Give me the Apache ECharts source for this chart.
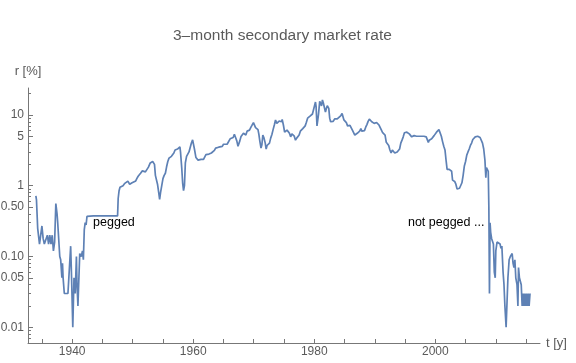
<!DOCTYPE html>
<html>
<head>
<meta charset="utf-8">
<script src="https://cdn.jsdelivr.net/npm/echarts@6/dist/echarts.min.js"></script>
<style>
html,body{margin:0;padding:0;background:#fff;}
#c{width:576px;height:363px;}
</style>
</head>
<body>
<div id="c"></div>
<script>
// ---- data ----
var years = [
1934.0,1934.1,1934.3,1934.6,1934.8,1935.0,1935.2,1935.4,1935.7,1935.9,
1936.1,1936.3,1936.5,1936.7,1936.9,1937.1,1937.3,1937.5,1937.6,1937.8,
1937.95,1938.1,1938.3,1938.4,1938.5,1938.7,1939.0,1939.3,1939.5,1939.75,
1939.9,1940.1,1940.3,1940.5,1940.7,1940.8,1940.95,1941.1,1941.25,1941.5,
1941.7,1941.85,1942.0,1942.15,1942.3,1942.45,1942.6,1943.5,1944.5,1945.5,
1946.5,1947.5,1947.6,1947.75,1947.9,1948.1,1948.4,1948.7,1948.9,1949.2,
1949.5,1949.7,1949.9,1950.2,1950.5,1950.7,1950.9,1951.1,1951.3,1951.6,
1951.9,1952.1,1952.4,1952.6,1952.9,1953.1,1953.3,1953.45,1953.6,1953.75,
1953.9,1954.1,1954.3,1954.45,1954.6,1954.8,1955.0,1955.2,1955.4,1955.6,
1955.8,1956.0,1956.2,1956.4,1956.6,1956.8,1957.0,1957.2,1957.4,1957.6,
1957.8,1957.9,1958.1,1958.25,1958.4,1958.55,1958.7,1958.9,1959.1,1959.3,
1959.5,1959.7,1959.9,1960.05,1960.2,1960.45,1960.6,1960.8,1961.0,1961.3,
1961.5,1961.7,1961.9,1962.1,1962.4,1962.6,1962.8,1963.0,1963.2,1963.5,
1963.7,1963.9,1964.2,1964.5,1964.8,1965.0,1965.3,1965.6,1965.9,1966.1,
1966.4,1966.6,1966.8,1967.0,1967.2,1967.4,1967.55,1967.7,1967.9,1968.1,
1968.3,1968.5,1968.7,1968.9,1969.1,1969.3,1969.5,1969.7,1969.95,1970.1,
1970.3,1970.5,1970.7,1970.85,1971.0,1971.2,1971.35,1971.5,1971.7,1971.9,
1972.05,1972.2,1972.4,1972.6,1972.8,1973.0,1973.2,1973.4,1973.6,1973.8,
1974.0,1974.2,1974.4,1974.6,1974.7,1974.9,1975.1,1975.3,1975.5,1975.7,
1975.9,1976.1,1976.3,1976.5,1976.7,1976.9,1977.1,1977.3,1977.5,1977.7,
1977.9,1978.1,1978.3,1978.5,1978.7,1978.9,1979.1,1979.3,1979.5,1979.7,
1979.9,1980.05,1980.2,1980.3,1980.45,1980.55,1980.7,1980.9,1981.0,1981.2,
1981.35,1981.5,1981.7,1981.85,1982.0,1982.15,1982.4,1982.55,1982.7,1982.9,
1983.1,1983.4,1983.6,1983.8,1984.1,1984.4,1984.6,1984.75,1984.9,1985.1,
1985.3,1985.5,1985.7,1985.9,1986.1,1986.3,1986.5,1986.7,1986.9,1987.1,
1987.3,1987.5,1987.7,1987.85,1988.0,1988.3,1988.5,1988.7,1988.9,1989.1,
1989.3,1989.5,1989.7,1989.9,1990.1,1990.3,1990.5,1990.7,1990.9,1991.1,
1991.3,1991.5,1991.7,1991.9,1992.1,1992.3,1992.5,1992.7,1992.9,1993.1,
1993.3,1993.5,1993.7,1993.9,1994.1,1994.3,1994.5,1994.7,1994.9,1995.1,
1995.3,1995.5,1995.7,1995.9,1996.1,1996.3,1996.5,1996.7,1996.9,1997.1,
1997.3,1997.5,1997.7,1997.9,1998.1,1998.3,1998.5,1998.7,1998.85,1999.0,
1999.2,1999.4,1999.6,1999.8,2000.0,2000.2,2000.4,2000.6,2000.8,2001.0,
2001.2,2001.4,2001.6,2001.8,2001.95,2002.1,2002.3,2002.5,2002.7,2002.85,
2003.0,2003.2,2003.4,2003.6,2003.8,2004.0,2004.2,2004.4,2004.6,2004.8,
2005.0,2005.2,2005.4,2005.6,2005.8,2006.0,2006.2,2006.4,2006.6,2006.8,
2007.0,2007.2,2007.4,2007.6,2007.8,2008.0,2008.2,2008.35,2008.45,2008.6,
2008.75,2008.85,2008.95,2009.05,2009.15,2009.3,2009.45,2009.6,2009.75,2009.9,
2010.0,2010.2,2010.35,2010.5,2010.7,2010.85,2011.0,2011.2,2011.35,2011.5,
2011.7,2011.85,2012.0,2012.2,2012.4,2012.55,2012.7,2012.85,2013.0,2013.15,
2013.3,2013.4,2013.5,2013.65,2013.75,2013.9,2014.05,2014.2,2014.35,2014.5,
2014.6,2014.75,2014.9,2015.05,2015.2,2015.35,2015.5,2015.65
];
var rates = [
0.72,0.63,0.25,0.15,0.20,0.27,0.18,0.15,0.15,0.20,
0.15,0.20,0.15,0.20,0.12,0.16,0.56,0.40,0.31,0.30,
0.10,0.09,0.05,0.08,0.05,0.03,0.03,0.03,0.03,0.14,
0.05,0.01,0.05,0.03,0.10,0.04,0.02,0.02,0.11,0.10,
0.12,0.09,0.24,0.30,0.28,0.37,0.375,0.375,0.375,0.375,
0.375,0.375,0.66,0.85,0.95,0.99,1.00,1.08,1.15,1.16,
1.05,1.06,1.10,1.14,1.17,1.27,1.36,1.40,1.50,1.62,
1.70,1.57,1.64,1.83,2.10,2.02,2.20,2.20,2.00,1.40,
1.40,1.05,0.80,0.64,0.80,1.00,1.26,1.40,1.50,1.85,
2.20,2.45,2.35,2.60,2.60,2.90,3.20,3.05,3.30,3.40,
3.55,3.00,1.80,1.10,0.85,1.00,2.10,2.60,2.80,3.00,
3.20,4.00,4.45,4.20,3.30,2.50,2.50,2.30,2.30,2.35,
2.25,2.35,2.50,2.75,2.70,2.80,2.75,2.90,2.90,3.15,
3.40,3.50,3.50,3.45,3.60,3.85,3.90,3.85,4.10,4.60,
4.55,4.80,5.30,4.80,4.30,3.60,3.70,4.30,4.95,5.00,
5.50,5.40,5.20,5.90,6.10,6.10,6.60,7.10,7.80,7.60,
6.60,6.50,6.20,5.30,4.30,3.40,3.80,5.20,4.70,4.00,
3.30,3.70,3.70,4.00,4.70,5.30,6.20,7.20,8.50,7.60,
7.70,8.20,8.40,8.00,8.60,7.20,5.70,5.40,6.10,6.40,
5.50,4.90,5.40,5.20,5.00,4.40,4.70,4.90,5.20,5.90,
6.10,6.40,6.70,7.00,7.90,9.00,9.40,9.60,9.30,10.3,
12.0,12.0,15.2,13.2,7.00,8.10,10.2,15.5,14.8,13.4,
16.3,14.7,15.0,11.0,12.3,13.5,12.4,9.00,8.00,7.90,
8.10,8.80,9.20,8.80,9.00,9.80,10.5,10.4,8.50,8.30,
7.80,7.00,7.10,7.10,7.00,6.10,6.00,5.20,5.30,5.50,
5.70,5.90,6.40,5.90,5.80,6.00,6.70,7.30,8.10,8.70,
8.70,8.00,7.80,7.60,7.70,7.80,7.50,7.20,6.80,6.10,
5.60,5.60,5.20,4.10,3.90,3.70,3.20,2.90,3.20,3.00,
2.90,3.05,3.00,3.10,3.30,4.00,4.40,4.90,5.60,5.80,
5.70,5.50,5.40,5.10,4.90,5.00,5.10,5.00,5.00,5.10,
5.00,5.10,5.00,5.10,5.00,4.95,4.90,4.60,4.10,4.40,
4.50,4.60,4.70,5.10,5.30,5.70,5.80,6.20,6.10,5.00,
4.20,3.60,3.20,2.20,1.70,1.70,1.70,1.70,1.60,1.20,
1.20,1.15,1.05,0.90,0.93,0.92,0.95,1.10,1.40,1.90,
2.20,2.70,3.00,3.30,3.70,4.00,4.50,4.70,4.90,4.95,
5.00,4.95,4.80,4.50,4.00,3.30,2.30,1.30,1.80,1.70,
1.60,0.50,0.03,0.30,0.22,0.18,0.18,0.15,0.06,0.05,
0.12,0.16,0.16,0.15,0.15,0.13,0.14,0.06,0.04,0.02,
0.01,0.01,0.05,0.09,0.10,0.10,0.11,0.08,0.07,0.09,
0.05,0.05,0.04,0.02,0.07,0.05,0.05,0.04,0.02,0.03,
0.02,0.03,0.02,0.03,0.02,0.03,0.02,0.03
];
var xTickYears = [1935,1940,1945,1950,1955,1960,1965,1970,1975,1980,1985,1990,1995,2000,2005,2010,2015];
var xLabelYears = [1940,1960,1980,2000];
var yMajorTicks = [0.01,0.05,0.1,0.5,1,5,10];
var yMajorLabels = ['0.01','0.05','0.10','0.50','1','5','10'];
var yMinorTicks = [0.007,0.008,0.009,0.02,0.03,0.04,0.06,0.07,0.08,0.09,0.2,0.3,0.4,0.6,0.7,0.8,0.9,2,3,4,6,7,8,9,20];
var titleText = '3\u2013month secondary market rate';
var annotations = [
  {text:'pegged', year:1946.9, rate:0.30},
  {text:'not pegged ...', year:2001.8, rate:0.30}
];

var seriesData = years.map(function(y,i){return [y, rates[i]];});

var axisColor = '#777777';
var labelColor = '#5a5a5a';
var font = 'Liberation Sans, Arial, sans-serif';

var chart = echarts.init(document.getElementById('c'), null, {renderer:'canvas'});
chart.setOption({
  animation:false,
  backgroundColor:'#fff',
  title:{
    text:titleText, left:168, top:23,
    textStyle:{color:'#5a5a5a', fontSize:15.5, fontWeight:'normal', fontFamily:font}
  },
  grid:{left:28, right:36, top:88, bottom:20, containLabel:false, outerBoundsMode:'none'},
  xAxis:{
    type:'value', min:1932.7, max:2017.3,
    name:'t [y]', nameLocation:'end', nameGap:6,
    nameTextStyle:{color:labelColor, fontSize:13, fontFamily:font},
    axisLine:{show:true, onZero:false, lineStyle:{color:axisColor, width:1}},
    axisTick:{show:true, inside:true, length:4, customValues:xTickYears, lineStyle:{color:axisColor}},
    axisLabel:{show:true, customValues:xLabelYears, color:labelColor, fontSize:12, fontFamily:font, margin:3,
      formatter:function(v){return String(Math.round(v));}},
    splitLine:{show:false}
  },
  yAxis:[{
    type:'log', logBase:10, min:0.006, max:24,
    name:'r [%]', nameLocation:'end', nameGap:10,
    nameTextStyle:{color:labelColor, fontSize:13, fontFamily:font, align:'center'},
    axisLine:{show:true, lineStyle:{color:axisColor, width:1}},
    axisTick:{show:true, inside:true, length:5, customValues:yMajorTicks, lineStyle:{color:axisColor}},
    axisLabel:{show:true, customValues:yMajorTicks, color:labelColor, fontSize:12, fontFamily:font, margin:4,
      formatter:function(v){
        for (var i=0;i<yMajorTicks.length;i++){ if (Math.abs(v-yMajorTicks[i])/yMajorTicks[i] < 1e-6) return yMajorLabels[i]; }
        return '';
      }},
    splitLine:{show:false}
  },{
    type:'log', logBase:10, min:0.006, max:24, position:'left',
    axisLine:{show:false},
    axisTick:{show:true, inside:true, length:3, customValues:yMinorTicks, lineStyle:{color:axisColor}},
    axisLabel:{show:false},
    splitLine:{show:false}
  }],
  series:[{
    type:'line', data:seriesData, xAxisIndex:0, yAxisIndex:0,
    showSymbol:false, symbol:'none', clip:true,
    lineStyle:{color:'#5e81b5', width:1.7},
    markPoint:{
      symbol:'circle', symbolSize:0,
      label:{show:true, position:'inside', color:'#000', fontSize:12.5, fontFamily:font,
        formatter:function(p){return p.name;}},
      data:annotations.map(function(a){return {name:a.text, coord:[a.year, a.rate], value:0};})
    }
  }]
});
</script>
</body>
</html>
